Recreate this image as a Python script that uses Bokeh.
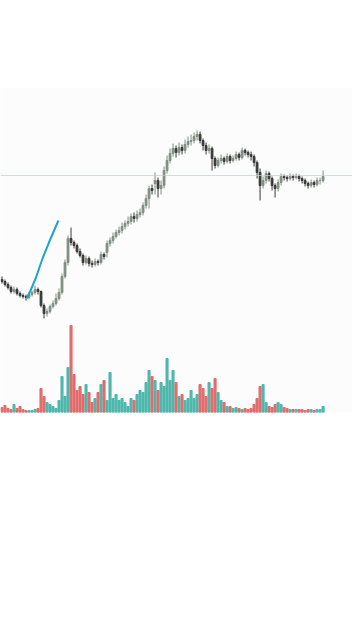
from bokeh.plotting import figure
from bokeh.models import Range1d, Span, ColumnDataSource
from bokeh.embed import file_html
from bokeh.resources import INLINE

# ---- data ----
opens = [221, 219, 216, 213, 209, 211, 207, 205, 204, 203, 206, 208, 211, 209, 195, 187, 189, 194, 197, 202,
         208, 224, 238, 262, 258, 255, 249, 245, 238, 242, 237, 236, 239, 238, 246, 248, 257, 260, 264, 268,
         270, 274, 277, 279, 284, 282, 286, 288, 295, 302, 312, 317, 320, 312, 315, 330, 340, 347, 352, 348,
         353, 350, 356, 359, 360, 364, 366, 360, 355, 350, 352, 342, 335, 340, 342, 339, 344, 340, 342, 346,
         343, 350, 348, 346, 344, 338, 328, 315, 320, 327, 322, 315, 312, 318, 324, 323, 322, 324, 323, 324,
         322, 320, 317, 315, 318, 316, 320, 320]
closes = [219, 216, 213, 209, 211, 207, 205, 204, 203, 206, 208, 211, 209, 195, 187, 189, 194, 197, 202, 208,
          224, 238, 262, 258, 255, 249, 245, 238, 242, 237, 236, 239, 238, 246, 244, 257, 260, 264, 268, 270,
          274, 277, 279, 284, 282, 286, 288, 295, 302, 312, 310, 320, 312, 315, 330, 340, 347, 352, 348, 353,
          350, 356, 359, 360, 364, 366, 360, 355, 350, 352, 342, 335, 340, 342, 339, 344, 340, 342, 346, 343,
          350, 348, 346, 344, 338, 328, 315, 320, 327, 322, 315, 312, 318, 324, 323, 322, 324, 323, 324, 322,
          320, 317, 315, 318, 316, 320, 320, 324]
highs = [224, 221, 218, 215, 214, 213, 209, 207, 206, 208, 210, 215, 213, 210, 197, 192, 196, 200, 207, 212,
         227, 241, 265, 273, 260, 257, 252, 247, 245, 244, 240, 242, 241, 249, 248, 260, 263, 268, 271, 274,
         278, 280, 284, 287, 288, 290, 292, 298, 306, 315, 316, 328, 323, 320, 334, 345, 352, 357, 355, 358,
         356, 361, 364, 366, 368, 370, 369, 362, 358, 356, 354, 344, 343, 346, 344, 347, 346, 345, 349, 348,
         353, 352, 350, 349, 346, 340, 332, 324, 330, 329, 324, 317, 321, 327, 326, 325, 327, 326, 327, 326,
         324, 322, 319, 321, 320, 323, 323, 330]
lows = [217, 214, 211, 207, 207, 205, 203, 202, 200, 201, 204, 206, 206, 193, 182, 184, 187, 192, 195, 200,
        206, 222, 235, 255, 252, 247, 243, 235, 236, 234, 233, 234, 235, 236, 241, 243, 254, 257, 262, 265,
        267, 271, 274, 276, 278, 279, 283, 285, 292, 292, 306, 306, 303, 306, 312, 327, 337, 344, 343, 345,
        346, 347, 353, 355, 357, 360, 357, 350, 346, 347, 330, 332, 333, 337, 336, 337, 337, 338, 340, 340,
        341, 345, 343, 340, 334, 322, 300, 312, 317, 319, 310, 303, 309, 315, 320, 319, 320, 320, 321, 319,
        317, 314, 312, 313, 313, 314, 316, 318]
volumes = [50, 70, 40, 30, 80, 40, 60, 30, 20, 20, 20, 30, 40, 240, 160, 100, 80, 60, 40, 120,
           360, 160, 450, 870, 380, 220, 260, 180, 280, 200, 100, 140, 200, 280, 320, 120, 400, 140, 180, 120,
           140, 100, 60, 140, 120, 180, 220, 200, 300, 420, 360, 320, 220, 300, 260, 540, 320, 420, 300, 160,
           180, 120, 140, 220, 140, 180, 280, 240, 160, 300, 240, 340, 200, 120, 100, 60, 60, 40, 50, 40,
           30, 40, 30, 40, 80, 140, 260, 280, 100, 60, 50, 80, 100, 80, 50, 40, 30, 30, 30, 30,
           30, 20, 30, 30, 20, 30, 30, 60]
level_price = 325
trend_x = [8.2, 9.5, 11.2, 13.5, 16.2, 18.8]
trend_y = [202, 210, 222, 242, 262, 280]

UP_CANDLE = "#7f8f80"
DOWN_CANDLE = "#3a3a3a"
UP_VOL = "#4fb8ad"
DOWN_VOL = "#e26d6d"

idx = list(range(len(closes)))
ccol = [UP_CANDLE if c >= o else DOWN_CANDLE for o, c in zip(opens, closes)]
vcol = [UP_VOL if c >= o else DOWN_VOL for o, c in zip(opens, closes)]
src = ColumnDataSource(dict(x=idx, o=opens, c=closes, h=highs, l=lows, v=volumes,
                            top=[max(a, b) for a, b in zip(opens, closes)],
                            bot=[min(a, b) for a, b in zip(opens, closes)],
                            cc=ccol, vc=vcol))

p = figure(width=352, height=632, output_backend="svg", toolbar_location=None,
           x_range=Range1d(-0.5, 116.8), y_range=Range1d(88, 412),
           min_border_left=0, min_border_right=0, min_border_top=88, min_border_bottom=220)
p.extra_y_ranges = {"vol": Range1d(0, 3240)}
p.background_fill_color = "#fcfcfc"
p.border_fill_color = "white"
p.outline_line_color = None
p.xaxis.visible = False
p.yaxis.visible = False
p.xgrid.visible = False
p.ygrid.visible = False

# volume bars
p.vbar(x="x", top="v", bottom=0, width=0.7, color="vc", source=src, y_range_name="vol")

# level line
p.add_layout(Span(location=level_price, dimension="width", line_color="#a8dccf",
                  line_alpha=0.7, line_width=1))

# candles
p.segment(x0="x", y0="l", x1="x", y1="h", color="cc", line_width=1, source=src)
p.vbar(x="x", top="top", bottom="bot", width=0.6, fill_color="cc", line_color="cc", source=src)

# trend drawing
p.line(trend_x, trend_y, line_color="#1fa3c9", line_width=2)

open("out.html", "w").write(file_html(p, INLINE))
